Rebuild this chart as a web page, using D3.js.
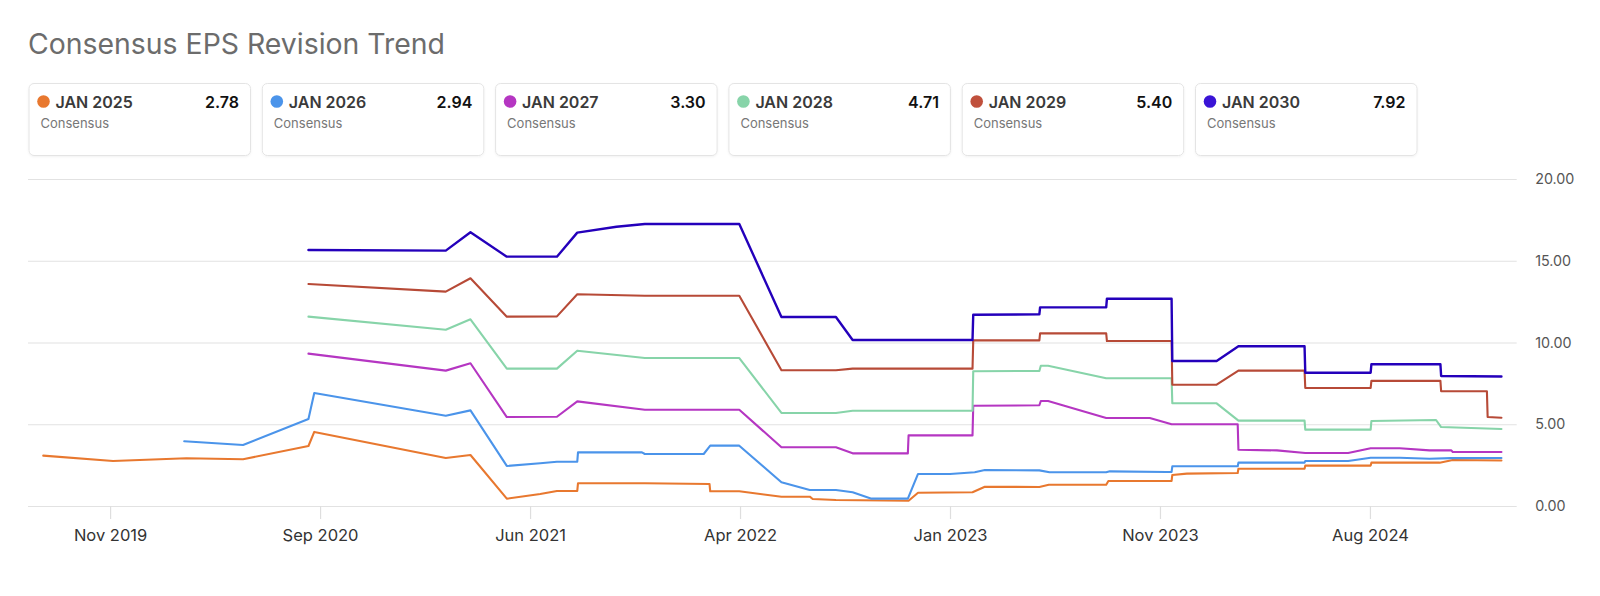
<!DOCTYPE html>
<html>
<head>
<meta charset="utf-8">
<script src="https://cdn.jsdelivr.net/npm/d3@7/dist/d3.min.js"></script>
<style>
  html, body { margin: 0; padding: 0; background: #fff; }
  svg { display: block; font-family: Inter, "Noto Sans", sans-serif; }
</style>
</head>
<body>
<svg id="chart" width="1600" height="596"></svg>
<script>
// ---------- DATA ----------
const seriesLabels = ["JAN 2025", "JAN 2026", "JAN 2027", "JAN 2028", "JAN 2029", "JAN 2030"];
const latestValues = [2.78, 2.94, 3.30, 4.71, 5.40, 7.92];
const subLabel = "Consensus";
const xTickDates = ["2019-11-24", "2020-09-08", "2021-06-24", "2022-04-09", "2023-01-23", "2023-11-08", "2024-08-23"];
const yTickValues = [0, 5, 10, 15, 20];
const xDomainDates = ["2019-08-03", "2025-03-13"];
const yDomainValues = [0, 20];

const jan2025 = [
  ["2019-08-24", 3.08], ["2019-11-28", 2.75], ["2020-03-08", 2.92], ["2020-05-25", 2.86],
  ["2020-08-23", 3.67], ["2020-08-31", 4.53], ["2021-02-28", 2.94], ["2021-04-03", 3.12],
  ["2021-05-23", 0.45], ["2021-07-08", 0.73], ["2021-07-31", 0.92], ["2021-08-28", 0.92],
  ["2021-08-29", 1.39], ["2021-11-29", 1.39], ["2022-02-26", 1.35], ["2022-02-27", 0.90],
  ["2022-04-08", 0.90], ["2022-06-05", 0.57], ["2022-07-14", 0.57], ["2022-07-18", 0.43],
  ["2022-08-19", 0.37], ["2022-11-27", 0.32], ["2022-12-10", 0.81], ["2023-02-23", 0.84],
  ["2023-03-12", 1.18], ["2023-05-26", 1.16], ["2023-06-08", 1.30], ["2023-08-26", 1.30],
  ["2023-08-29", 1.53], ["2023-11-24", 1.53], ["2023-11-25", 1.90], ["2023-12-15", 1.98],
  ["2024-02-23", 2.02], ["2024-02-24", 2.28], ["2024-05-25", 2.28], ["2024-05-26", 2.47],
  ["2024-08-24", 2.47], ["2024-08-25", 2.65], ["2024-11-27", 2.65], ["2024-12-15", 2.81],
  ["2025-02-20", 2.78]
];
const jan2026 = [
  ["2020-03-05", 3.96], ["2020-05-25", 3.73], ["2020-08-23", 5.32], ["2020-08-31", 6.91],
  ["2021-02-28", 5.52], ["2021-04-03", 5.85], ["2021-05-23", 2.45], ["2021-07-08", 2.61],
  ["2021-07-31", 2.71], ["2021-08-28", 2.71], ["2021-08-29", 3.28], ["2021-11-25", 3.28],
  ["2021-11-29", 3.18], ["2022-02-18", 3.18], ["2022-02-27", 3.69], ["2022-04-08", 3.69],
  ["2022-06-05", 1.45], ["2022-07-14", 0.98], ["2022-08-19", 0.98], ["2022-09-11", 0.84],
  ["2022-10-07", 0.45], ["2022-11-26", 0.45], ["2022-12-10", 1.96], ["2023-01-23", 1.96],
  ["2023-02-26", 2.06], ["2023-03-12", 2.20], ["2023-05-26", 2.18], ["2023-06-09", 2.06],
  ["2023-08-26", 2.06], ["2023-08-31", 2.12], ["2023-11-17", 2.08], ["2023-11-24", 2.08],
  ["2023-11-25", 2.43], ["2024-02-23", 2.43], ["2024-02-24", 2.65], ["2024-05-25", 2.65],
  ["2024-05-26", 2.75], ["2024-07-24", 2.75], ["2024-08-24", 2.95], ["2024-10-03", 2.95],
  ["2024-11-13", 2.89], ["2024-12-13", 2.93], ["2025-02-20", 2.94]
];
const jan2027 = [
  ["2020-08-23", 9.32], ["2021-02-28", 8.28], ["2021-04-03", 8.73], ["2021-05-23", 5.44],
  ["2021-07-31", 5.46], ["2021-08-28", 6.40], ["2021-11-29", 5.89], ["2022-04-08", 5.89],
  ["2022-06-05", 3.59], ["2022-08-19", 3.59], ["2022-09-11", 3.22], ["2022-11-26", 3.22],
  ["2022-11-27", 4.32], ["2023-02-23", 4.32], ["2023-02-24", 6.13], ["2023-05-26", 6.16],
  ["2023-05-28", 6.42], ["2023-06-07", 6.42], ["2023-08-26", 5.38], ["2023-10-25", 5.38],
  ["2023-11-24", 5.00], ["2024-02-23", 5.00], ["2024-02-24", 3.44], ["2024-04-17", 3.40],
  ["2024-05-26", 3.24], ["2024-07-24", 3.24], ["2024-08-24", 3.53], ["2024-10-03", 3.53],
  ["2024-11-13", 3.40], ["2024-12-13", 3.40], ["2024-12-15", 3.30], ["2025-02-20", 3.30]
];
const jan2028 = [
  ["2020-08-23", 11.58], ["2021-02-28", 10.78], ["2021-04-03", 11.42], ["2021-05-23", 8.40],
  ["2021-07-31", 8.40], ["2021-08-28", 9.50], ["2021-11-29", 9.05], ["2022-04-08", 9.05],
  ["2022-06-05", 5.69], ["2022-08-19", 5.69], ["2022-09-11", 5.83], ["2023-02-23", 5.83],
  ["2023-02-24", 8.24], ["2023-05-26", 8.26], ["2023-05-28", 8.58], ["2023-06-07", 8.58],
  ["2023-08-26", 7.81], ["2023-11-24", 7.81], ["2023-11-25", 6.28], ["2024-01-25", 6.28],
  ["2024-02-24", 5.22], ["2024-05-25", 5.22], ["2024-05-26", 4.67], ["2024-08-24", 4.67],
  ["2024-08-25", 5.20], ["2024-11-22", 5.26], ["2024-11-29", 4.83], ["2025-02-20", 4.71]
];
const jan2029 = [
  ["2020-08-23", 13.58], ["2021-02-28", 13.11], ["2021-04-03", 13.93], ["2021-05-23", 11.58],
  ["2021-07-31", 11.60], ["2021-08-28", 12.95], ["2021-11-29", 12.86], ["2022-04-08", 12.86],
  ["2022-06-05", 8.30], ["2022-08-19", 8.30], ["2022-09-11", 8.40], ["2023-02-23", 8.40],
  ["2023-02-24", 10.13], ["2023-05-26", 10.13], ["2023-05-27", 10.56], ["2023-08-26", 10.56],
  ["2023-08-27", 10.09], ["2023-11-24", 10.09], ["2023-11-25", 7.42], ["2024-01-25", 7.42],
  ["2024-02-24", 8.28], ["2024-05-25", 8.28], ["2024-05-26", 7.22], ["2024-08-24", 7.22],
  ["2024-08-25", 7.65], ["2024-11-28", 7.65], ["2024-11-29", 7.02], ["2025-01-31", 7.02],
  ["2025-02-01", 5.44], ["2025-02-20", 5.40]
];
const jan2030 = [
  ["2020-08-23", 15.66], ["2021-02-28", 15.62], ["2021-04-03", 16.74], ["2021-05-23", 15.25],
  ["2021-07-31", 15.25], ["2021-08-28", 16.72], ["2021-10-21", 17.08], ["2021-11-29", 17.25],
  ["2022-04-08", 17.25], ["2022-06-05", 11.56], ["2022-08-19", 11.56], ["2022-09-11", 10.15],
  ["2023-02-23", 10.15], ["2023-02-24", 11.70], ["2023-05-26", 11.72], ["2023-05-27", 12.15],
  ["2023-08-26", 12.15], ["2023-08-27", 12.68], ["2023-11-24", 12.68], ["2023-11-25", 8.87],
  ["2024-01-25", 8.87], ["2024-02-24", 9.77], ["2024-05-25", 9.77], ["2024-05-26", 8.15],
  ["2024-08-24", 8.15], ["2024-08-25", 8.67], ["2024-11-28", 8.67], ["2024-11-29", 7.95],
  ["2025-02-20", 7.92]
];
const seriesData = [jan2025, jan2026, jan2027, jan2028, jan2029, jan2030];

// ---------- STYLE ----------
const lineColors = ["#e8782f", "#4b94ea", "#b536c2", "#87d4a9", "#b74a37", "#2400bb"];
const dotColors  = ["#e8782f", "#4b94ea", "#b536c2", "#87d4a9", "#c0503c", "#3a14d6"];
const lineWidths = [2.1, 2.1, 2.1, 2.1, 2.1, 2.4];

// ---------- LAYOUT ----------
const W = 1600, H = 596;
const plot = { left: 28, right: 1516.7, top: 179, bottom: 506 };
const legend = { x0: 28.5, y0: 83, w: 221.5, h: 72, pitch: 233.3 };

const parse = d3.timeParse("%Y-%m-%d");
const svg = d3.select("#chart");

svg.append("rect").attr("width", W).attr("height", H).attr("fill", "#fff");

// title
svg.append("text")
  .attr("x", 28).attr("y", 54)
  .attr("font-size", 28.4).attr("fill", "#6c6c6c")
  .attr("font-weight", 400)
  .text("Consensus EPS Revision Trend");

// legend cards
const defs = svg.append("defs");
const f = defs.append("filter").attr("id", "shadow").attr("x", "-5%").attr("y", "-10%").attr("width", "110%").attr("height", "130%");
f.append("feDropShadow").attr("dx", 0).attr("dy", 1).attr("stdDeviation", 1).attr("flood-color", "#000").attr("flood-opacity", 0.05);

const cards = svg.append("g").selectAll("g").data(seriesLabels).join("g")
  .attr("transform", (d, i) => `translate(${legend.x0 + i * legend.pitch},${legend.y0})`);
cards.append("rect")
  .attr("x", 0.5).attr("y", 0.5)
  .attr("width", legend.w).attr("height", legend.h)
  .attr("rx", 5).attr("fill", "#fff").attr("stroke", "#e4e4e4").attr("stroke-width", 1)
  .attr("filter", "url(#shadow)");
cards.append("circle")
  .attr("cx", 15).attr("cy", 18.5).attr("r", 6.3)
  .attr("fill", (d, i) => dotColors[i]);
cards.append("text")
  .attr("x", 27).attr("y", 24.5)
  .attr("font-size", 16).attr("font-weight", 600).attr("fill", "#3a3a3a")
  .text(d => d);
cards.append("text")
  .attr("x", legend.w - 11).attr("y", 24.5)
  .attr("text-anchor", "end")
  .attr("font-size", 16).attr("font-weight", 600).attr("fill", "#111")
  .text((d, i) => d3.format(".2f")(latestValues[i]));
cards.append("text")
  .attr("x", 12).attr("y", 44.5)
  .attr("font-size", 13).attr("fill", "#777")
  .text(subLabel);

// scales
const x = d3.scaleTime().domain(xDomainDates.map(parse)).range([plot.left, plot.right]);
const y = d3.scaleLinear().domain(yDomainValues).range([plot.bottom, plot.top]);

// y axis with gridlines
const yAxis = svg.append("g")
  .attr("transform", `translate(${plot.left},0)`)
  .call(d3.axisRight(y).tickValues(yTickValues).tickFormat(d3.format(".2f"))
    .tickSize(plot.right - plot.left).tickPadding(18.5));
yAxis.select(".domain").remove();
yAxis.selectAll(".tick line").attr("stroke", "#e2e2e2").attr("stroke-width", 1.2);
yAxis.selectAll(".tick text").attr("font-family", "Inter, sans-serif").attr("font-size", 14.3).attr("fill", "#555");

// x axis
const xAxis = svg.append("g")
  .attr("transform", `translate(0,${plot.bottom})`)
  .call(d3.axisBottom(x).tickValues(xTickDates.map(parse)).tickFormat(d3.timeFormat("%b %Y"))
    .tickSize(13).tickPadding(10));
xAxis.select(".domain").remove();
xAxis.selectAll(".tick line").attr("stroke", "#dedede").attr("stroke-width", 1.2);
xAxis.selectAll(".tick text").attr("font-family", "Inter, sans-serif").attr("font-size", 16.5).attr("fill", "#333");

// lines
const line = d3.line()
  .x(d => x(parse(d[0])))
  .y(d => y(d[1]));

svg.append("g").selectAll("path").data(seriesData).join("path")
  .attr("d", d => line(d))
  .attr("fill", "none")
  .attr("stroke", (d, i) => lineColors[i])
  .attr("stroke-width", (d, i) => lineWidths[i])
  .attr("stroke-linejoin", "round")
  .attr("stroke-linecap", "round");
</script>
</body>
</html>
